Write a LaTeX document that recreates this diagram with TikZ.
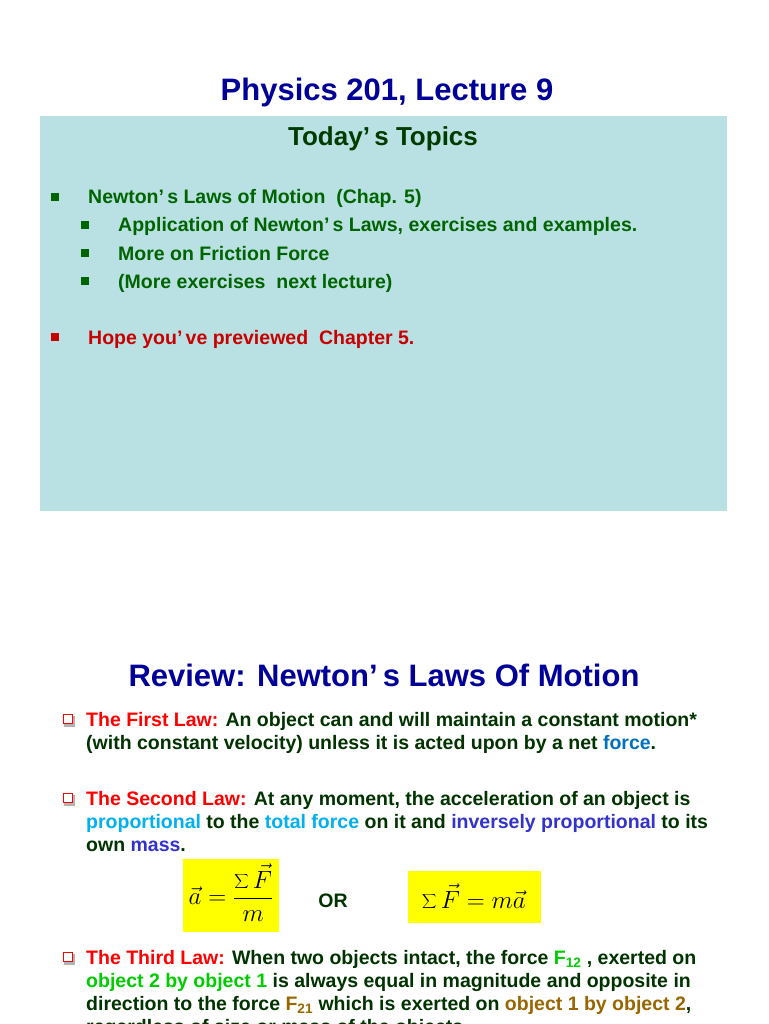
\documentclass[tikz,border=0pt]{standalone}
\usepackage{fontspec}
\setmainfont{Liberation Sans}
\definecolor{boxbg}{RGB}{185,224,227}
\definecolor{dg}{RGB}{0,100,0}
\definecolor{tg}{RGB}{0,60,0}
\definecolor{hr}{RGB}{200,0,0}
\definecolor{navy}{RGB}{0,0,153}
\definecolor{body}{RGB}{0,51,0}
\definecolor{lblue}{RGB}{0,112,192}
\definecolor{cyanb}{RGB}{0,176,240}
\definecolor{ib}{RGB}{51,51,204}
\definecolor{gg}{RGB}{0,204,0}
\definecolor{brn}{RGB}{153,102,0}
\definecolor{yel}{RGB}{255,255,0}
\tikzset{
 tl/.style={anchor=base west,inner sep=0pt,font=\bfseries\fontsize{19.5}{21}\selectfont},
 bodyt/.style={tl,text=body},
 sq/.style={fill=#1,minimum size=8pt,inner sep=0pt,draw=none},
 qb/.style={draw=red,line width=1.2pt,fill=white,minimum size=9pt,inner sep=0pt}
}
\begin{document}
\begin{tikzpicture}[x=1pt,y=-1pt]
\useasboundingbox (0,0) rectangle (768,1024);
\fill[white] (0,0) rectangle (768,1024);
\node[anchor=base,inner sep=0pt,text=navy,font=\bfseries\fontsize{31}{33}\selectfont] (t1) at (387,101) {Physics 201, Lecture 9};
\fill[boxbg] (40,116) rectangle (727,511);
\node[anchor=base,inner sep=0pt,text=tg,font=\bfseries\fontsize{26}{28}\selectfont] (t2) at (383,146) {Today’\,s Topics};
\node[sq=dg] (b1) at (55,197) {};
\node[tl,text=dg] (i1) at (88,204) {Newton’\,s Laws of Motion\ \ (Chap. 5)};
\node[sq=dg] (b2) at (85,225) {};
\node[tl,text=dg] (i2) at (118,232) {Application of Newton’\,s Laws, exercises and examples.};
\node[sq=dg] (b3) at (85,253) {};
\node[tl,text=dg] (i3) at (118,260) {More on Friction Force};
\node[sq=dg] (b4) at (85,281) {};
\node[tl,text=dg] (i4) at (118,288) {(More exercises\ \ next lecture)};
\node[sq=hr] (b5) at (55,337) {};
\node[tl,text=hr] (i5) at (88,344) {Hope you’\,ve previewed\ \ Chapter 5.};
\node[anchor=base,inner sep=0pt,text=navy,font=\bfseries\fontsize{31}{33}\selectfont] (t3) at (384,686) {Review: Newton’\,s Laws Of Motion};
% first law
\fill[gray!60] (64,716) rectangle (75,727);
\node[qb] (q1) at (68,719) {};
\node[bodyt] (l1) at (86,726) {\textcolor{red}{The First Law:} An object can and will maintain a constant motion*};
\node[bodyt] (l1b) at (86,749) {(with constant velocity) unless it is acted upon by a net \textcolor{lblue}{force}.};
% second law
\fill[gray!60] (64,795) rectangle (75,806);
\node[qb] (q2) at (68,798) {};
\node[bodyt] (l2) at (86,805) {\textcolor{red}{The Second Law:} At any moment, the acceleration of an object is};
\node[bodyt] (l2b) at (86,828) {\textcolor{cyanb}{proportional} to the \textcolor{cyanb}{total force} on it and \textcolor{ib}{inversely proportional} to its};
\node[bodyt] (l2c) at (86,851) {own \textcolor{ib}{mass}.};
\fill[yel] (183,859) rectangle (279,932);
\node[inner sep=0pt,font=\fontsize{24}{26}\selectfont] (f1) at (231,893) {$\displaystyle\vec a=\frac{\displaystyle\sum\vec F}{m}$};
\node[anchor=base,inner sep=0pt,font=\bfseries\fontsize{19.5}{21}\selectfont,text=body] (or) at (333,907) {OR};
\fill[yel] (408,871) rectangle (541,923);
\node[inner sep=0pt,font=\fontsize{26}{28}\selectfont] (f2) at (474,897) {$\displaystyle\sum\vec F=m\vec a$};
% third law
\fill[gray!60] (64,954) rectangle (75,965);
\node[qb] (q3) at (68,957) {};
\node[bodyt] (l3) at (86,964) {\textcolor{red}{The Third Law:} When two objects intact, the force \textcolor{gg}{F$_{\mathbf{12}}$} , exerted on};
\node[bodyt] (l3b) at (86,987) {\textcolor{gg}{object 2 by object 1} is always equal in magnitude and opposite in};
\node[bodyt] (l3c) at (86,1010) {direction to the force \textcolor{brn}{F$_{\mathbf{21}}$} which is exerted on \textcolor{brn}{object 1 by object 2},};
\node[bodyt] (l3d) at (86,1033) {regardless of size or mass of the objects.};
\end{tikzpicture}
\end{document}
